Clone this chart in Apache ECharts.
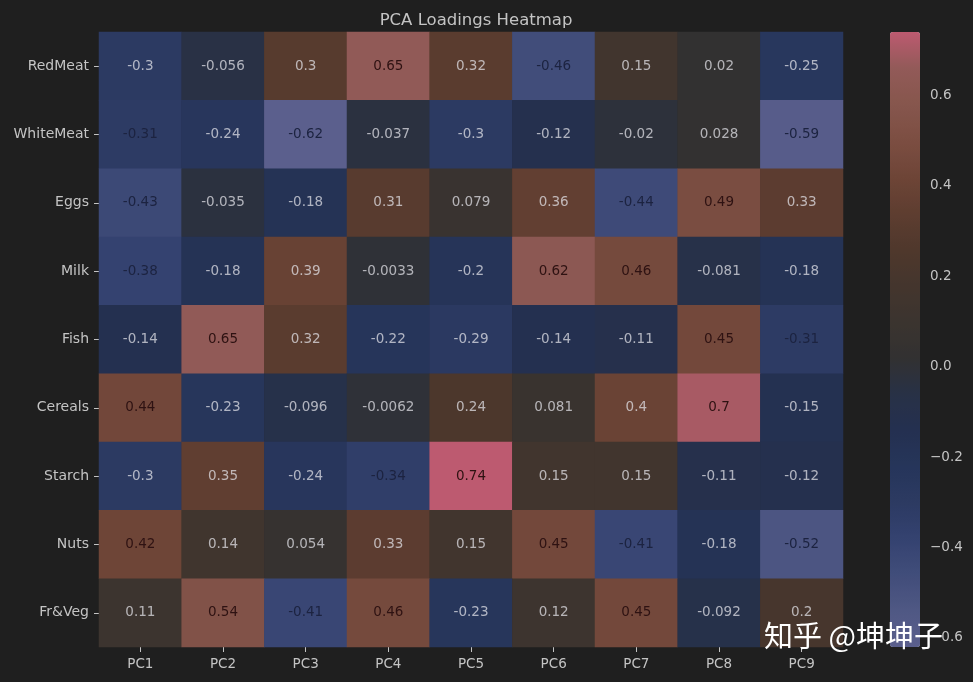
<!DOCTYPE html>
<html>
<head>
<meta charset="utf-8">
<script src="https://cdn.jsdelivr.net/npm/echarts@6/dist/echarts.min.js"></script>
<style>
  html, body { margin: 0; padding: 0; background: #1f1f1f; }
  #main { width: 973px; height: 682px; }
</style>
</head>
<body>
<div id="main"></div>
<script>
// 主成分与食品类别
let pcs = ['PC1', 'PC2', 'PC3', 'PC4', 'PC5', 'PC6', 'PC7', 'PC8', 'PC9'];
let foods = ['RedMeat', 'WhiteMeat', 'Eggs', 'Milk', 'Fish', 'Cereals', 'Starch', 'Nuts', 'Fr&Veg'];

// 每行一个食品, 每列一个主成分
let redMeat   = [-0.3, -0.056, 0.3, 0.65, 0.32, -0.46, 0.15, 0.02, -0.25];
let whiteMeat = [-0.31, -0.24, -0.62, -0.037, -0.3, -0.12, -0.02, 0.028, -0.59];
let eggs      = [-0.43, -0.035, -0.18, 0.31, 0.079, 0.36, -0.44, 0.49, 0.33];
let milk      = [-0.38, -0.18, 0.39, -0.0033, -0.2, 0.62, 0.46, -0.081, -0.18];
let fish      = [-0.14, 0.65, 0.32, -0.22, -0.29, -0.14, -0.11, 0.45, -0.31];
let cereals   = [0.44, -0.23, -0.096, -0.0062, 0.24, 0.081, 0.4, 0.7, -0.15];
let starch    = [-0.3, 0.35, -0.24, -0.34, 0.74, 0.15, 0.15, -0.11, -0.12];
let nuts      = [0.42, 0.14, 0.054, 0.33, 0.15, 0.45, -0.41, -0.18, -0.52];
let frVeg     = [0.11, 0.54, -0.41, 0.46, -0.23, 0.12, 0.45, -0.092, 0.2];

let colorbarTicks = [-0.6, -0.4, -0.2, 0.0, 0.2, 0.4, 0.6];
let vMin = -0.62;
let vMax = 0.74;

let rows = [redMeat, whiteMeat, eggs, milk, fish, cereals, starch, nuts, frVeg];
let heatData = [];
for (let r = 0; r < rows.length; r++) {
    for (let c = 0; c < pcs.length; c++) {
        heatData.push([c, r, rows[r][c]]);
    }
}

let myChart = echarts.init(document.getElementById('main'));
let textGrey = '#c4c4c4';

// 标注文字颜色: 浅色格子用深色字
let cellData = heatData.map(function (d) {
    let v = d[2];
    let dark = v <= -0.305 || v >= 0.415;
    let col = dark ? (v < 0 ? '#1c2340' : '#2e1212') : 'rgba(230,230,235,0.72)';
    return {value: d, label: {color: col}};
});

let option = {
    backgroundColor: '#1f1f1f',
    animation: false,
    title: {
        text: 'PCA Loadings Heatmap',
        left: 471,
        textAlign: 'center',
        top: 7,
        textStyle: {
            color: textGrey,
            fontSize: 16.5,
            fontWeight: 'normal',
            fontFamily: 'DejaVu Sans'
        }
    },
    grid: [
        {left: 99, top: 32, width: 744, height: 615},
        {left: 890, top: 32, width: 30, height: 615}
    ],
    xAxis: [{
        type: 'category',
        gridIndex: 0,
        data: pcs,
        axisLine: {show: false},
        axisTick: {show: true, length: 5, alignWithLabel: true, lineStyle: {color: textGrey}},
        axisLabel: {color: textGrey, fontSize: 13.5, fontFamily: 'DejaVu Sans', margin: 10},
        splitLine: {show: false}
    }, {
        type: 'value',
        gridIndex: 1,
        show: false
    }],
    yAxis: [{
        type: 'category',
        gridIndex: 0,
        data: foods,
        inverse: true,
        axisLine: {show: false},
        axisTick: {show: true, length: 5, alignWithLabel: true, lineStyle: {color: textGrey}},
        axisLabel: {color: textGrey, fontSize: 14, fontFamily: 'DejaVu Sans', margin: 10},
        splitLine: {show: false}
    }, {
        type: 'value',
        gridIndex: 1,
        position: 'right',
        min: vMin,
        max: vMax,
        axisLine: {show: false},
        axisTick: {show: true, length: 5, customValues: colorbarTicks, lineStyle: {color: textGrey}},
        axisLabel: {
            color: textGrey,
            fontSize: 13.5,
            fontFamily: 'DejaVu Sans',
            margin: 10,
            customValues: colorbarTicks,
            formatter: function (v) {
                let s = Math.abs(v).toFixed(1);
                return v < -1e-9 ? '\u2212' + s : s;
            }
        },
        splitLine: {show: false}
    }],
    visualMap: {
        type: 'continuous',
        seriesIndex: 0,
        min: vMin,
        max: vMax,
        show: true,
        calculable: false,
        orient: 'vertical',
        left: 890,
        top: 32,
        padding: 0,
        itemWidth: 30,
        itemHeight: 615,
        inRange: {
            color: ['#5b5f8d', '#4f5884', '#414d7a', '#344270', '#2c3a62', '#26355a',
                '#243050', '#283146', '#323131', '#3b342f', '#44352d', '#4f382c',
                '#5e3d30', '#6e4537', '#7c4e42', '#86564d', '#925a58', '#bd5a70']
        }
    },
    series: [{
        type: 'heatmap',
        xAxisIndex: 0,
        yAxisIndex: 0,
        data: cellData,
        itemStyle: {borderWidth: 0},
        emphasis: {disabled: true},
        label: {
            show: true,
            fontSize: 13.5,
            fontFamily: 'DejaVu Sans',
            formatter: function (p) {
                return String(p.value[2]);
            }
        }
    }],
    graphic: [{
        type: 'text',
        left: 764,
        top: 621,
        style: {
            text: '知乎 @坤坤子',
            fill: '#ffffff',
            fontSize: 29,
            fontFamily: 'Noto Sans CJK SC',
            shadowColor: 'rgba(0,0,0,0.6)',
            shadowBlur: 3,
            shadowOffsetX: 1,
            shadowOffsetY: 1
        },
        z: 100
    }]
};

myChart.setOption(option);
</script>
</body>
</html>
